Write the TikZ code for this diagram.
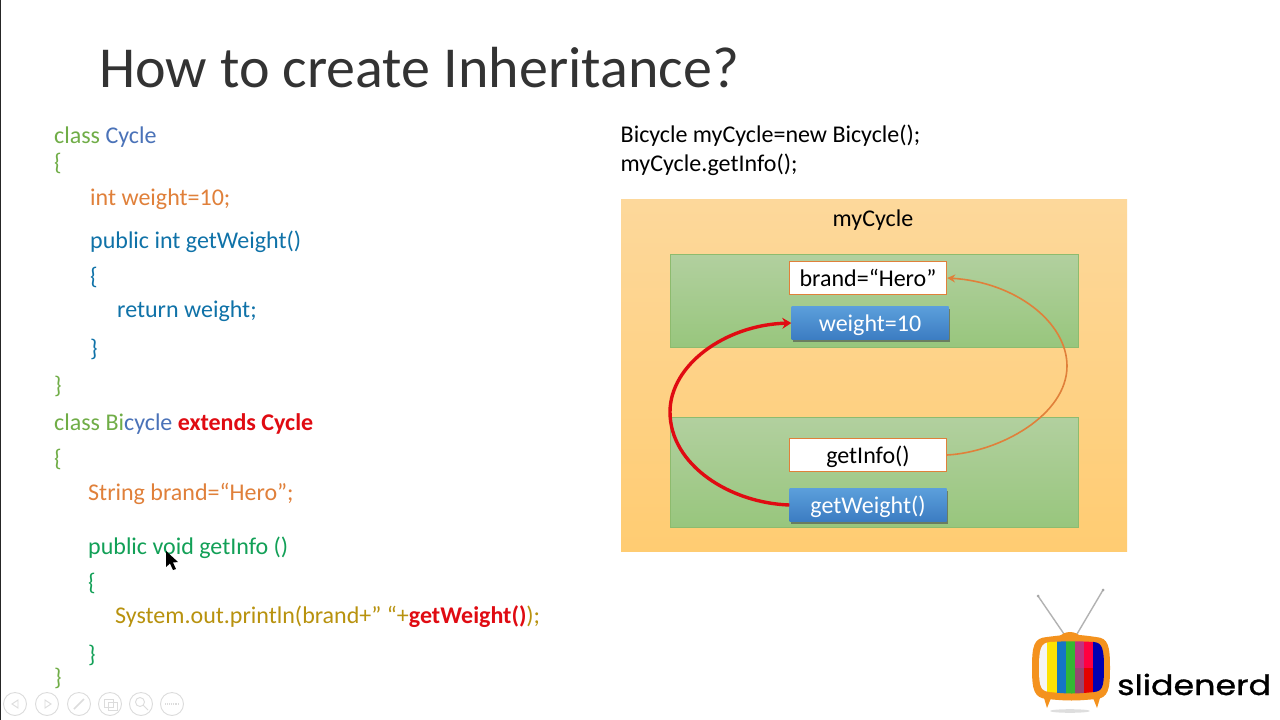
\documentclass[tikz,border=0pt]{standalone}
\usepackage{fontspec}
\setmainfont{Carlito}
\newfontfamily\logofont[FakeBold=0.9]{Poppins}
\usetikzlibrary{arrows.meta,shadows}
\definecolor{cgreen}{HTML}{70AD47}
\definecolor{cblue}{HTML}{4A72B8}
\definecolor{corange}{HTML}{E0803A}
\definecolor{cteal}{HTML}{0F72A8}
\definecolor{cjade}{HTML}{12A057}
\definecolor{cgold}{HTML}{B8920E}
\definecolor{cred}{HTML}{E00B12}
\definecolor{navgray}{HTML}{DCDCDC}
\definecolor{orangeT}{HTML}{FDD89B}
\definecolor{orangeB}{HTML}{FFCC72}
\definecolor{greenT}{HTML}{B2D09F}
\definecolor{greenB}{HTML}{98C67D}
\definecolor{greenL}{HTML}{8DBB6E}
\definecolor{blueT}{HTML}{5B9FDB}
\definecolor{blueB}{HTML}{3C7CC2}
\definecolor{tvorange}{HTML}{F4921E}
\tikzset{
 code/.style={inner sep=0pt,anchor=base west,yshift=-1.4pt,font=\fontsize{24}{28}\selectfont},
 orangefill/.style={top color=orangeT,bottom color=orangeB,draw=none},
 greenbox/.style={top color=greenT,bottom color=greenB,draw=greenL,line width=.6pt},
 whitebox/.style={draw=corange,fill=white,line width=1.4pt,minimum width=157pt,minimum height=33pt,inner sep=0pt,text height=20pt,text depth=3pt,font=\fontsize{24}{28}\selectfont},
 bluebox/.style={top color=blueT,bottom color=blueB,draw=none,text=white,minimum width=157pt,minimum height=33pt,inner sep=0pt,text height=20pt,text depth=3pt,font=\fontsize{24}{28}\selectfont,drop shadow={shadow xshift=1.5pt,shadow yshift=-2.5pt,fill=black!70,opacity=.6}},
 navbtn/.style={circle,draw=navgray,line width=.9pt,minimum size=23pt,inner sep=0pt},
 navicon/.style={draw=navgray,line width=.9pt}
}
\begin{document}
\begin{tikzpicture}[x=1pt,y=-1pt]
\useasboundingbox (0,0) rectangle (1280,720);
\fill[white] (0,0) rectangle (1280,720);
\fill[black!85] (0,0) rectangle (1.2,720);
% title
\node[code,font=\fontsize{58}{62}\selectfont,text=black!80] (title) at (99,86) {How to create Inheritance?};
% left code
\node[code] (l1) at (54,142) {\textcolor{cgreen}{class} \textcolor{cblue}{Cycle}};
\node[code,text=cgreen] (l2) at (54,169) {\{};
\node[code,text=corange] (l3) at (90,204) {int weight=10;};
\node[code,text=cteal] (l4) at (90,247) {public int getWeight()};
\node[code,text=cteal] (l5) at (90,283) {\{};
\node[code,text=cteal] (l6) at (117,316) {return weight;};
\node[code,text=cteal] (l7) at (90,355) {\}};
\node[code,text=cgreen] (l8) at (54,392) {\}};
\node[code] (l9) at (54,429) {\textcolor{cgreen}{class Bi}\textcolor{cblue}{cycle} \textcolor{cred}{\bfseries extends Cycle}};
\node[code,text=cgreen] (l10) at (54,465) {\{};
\node[code,text=corange] (l11) at (88,499) {String brand=“Hero”;};
\node[code,text=cjade] (l12) at (88,553) {public void getInfo ()};
\node[code,text=cjade] (l13) at (88,589) {\{};
\node[code,text=cgold] (l14) at (115,622) {System.out.println(brand+” “+\textcolor{cred}{\bfseries getWeight()});};
\node[code,text=cjade] (l15) at (88,661) {\}};
\node[code,text=cgreen] (l16) at (54,684) {\}};
% right code
\node[code,text=black] (r1) at (620.5,141) {Bicycle myCycle=new Bicycle();};
\node[code,text=black] (r2) at (620.5,170) {myCycle.getInfo();};
% diagram
\path[orangefill] (621,199) rectangle (1127,551);
\node[code,anchor=base,text=black] (my) at (873,225) {myCycle};
\path[greenbox] (670,254) rectangle (1078,347);
\path[greenbox] (670,417) rectangle (1078,527);
\node[whitebox] (brand) at (868,278) {brand=“Hero”};
\node[bluebox] (weight) at (870,323) {weight=10};
\node[whitebox] (info) at (868,455) {getInfo()};
\node[bluebox] (getw) at (868,505) {getWeight()};
\draw[corange,line width=1.6pt,-{Stealth[length=8pt,width=8pt]}] (info.east) .. controls (1000,452) and (1067,415) .. (1067,366) .. controls (1067,322) and (1015,282) .. (brand.east);
\draw[cred,line width=3.4pt,-{Stealth[length=9pt,width=11pt]}] (getw.west) .. controls (730,503) and (670,465) .. (670,412) .. controls (670,365) and (725,325) .. (weight.west);
% cursor
\fill[black] (166,551) -- (166,567) -- (170,563.5) -- (173,570) -- (176,569) -- (173,562.5) -- (178,562) -- cycle;
% nav buttons
\node[navbtn] (n1) at (15,704) {};
\node[navbtn] (n2) at (47,704) {};
\node[navbtn] (n3) at (79,704) {};
\node[navbtn] (n4) at (110,704) {};
\node[navbtn] (n5) at (141,704) {};
\node[navbtn] (n6) at (172,704) {};
\draw[navicon] (18,700) -- (12,704) -- (18,708) -- cycle;
\draw[navicon] (45,700) -- (51,704) -- (45,708) -- cycle;
\draw[navicon,line width=1.6pt] (74,709) -- (84,699);
\draw[navicon] (104,699) rectangle (113,707) (108,702) rectangle (117,710);
\draw[navicon] (140,702) circle (4.5pt) (143.5,705.5) -- (148,710);
\draw[navicon,densely dotted,line width=1.4pt] (165,704) -- (179,704);
% logo
\fill[black!25,opacity=.5] (1070,711) ellipse (20pt and 1.8pt);
\draw[gray!60,line width=1.4pt] (1038,596) -- (1064,634);
\fill[gray!70] (1038,596) circle (1.5pt);
\draw[gray!60,line width=1.4pt] (1103,590) -- (1077,634);
\fill[gray!70] (1103,590) circle (1.5pt);
\fill[tvorange] (1044,698) -- (1047,708) -- (1051,698) -- cycle;
\fill[tvorange] (1093,698) -- (1097,708) -- (1100,698) -- cycle;
\fill[tvorange] (1058,638) .. controls (1064,630) and (1076,630) .. (1082,638) -- cycle;
\fill[tvorange] (1047,637) .. controls (1070,634) and (1075,634) .. (1096,637) .. controls (1108,638) and (1110,645) .. (1110,668) .. controls (1110,690) and (1108,698) .. (1096,699) .. controls (1075,701) and (1068,701) .. (1047,699) .. controls (1034,698) and (1032,690) .. (1032,668) .. controls (1032,645) and (1034,638) .. (1047,637) -- cycle;
\begin{scope}
\clip (1050,642) .. controls (1070,641) and (1075,641) .. (1094,642) .. controls (1102,643) and (1104,648) .. (1104,668) .. controls (1104,688) and (1102,691) .. (1094,692) .. controls (1075,694) and (1068,694) .. (1050,692) .. controls (1041,691) and (1039,688) .. (1039,668) .. controls (1039,648) and (1041,643) .. (1050,642) -- cycle;
\fill[white!92!gray] (1038,641) rectangle (1047,694);
\fill[yellow!85!orange] (1047,641) rectangle (1057,694);
\fill[cyan!55!blue] (1057,641) rectangle (1066,694);
\fill[green!65!black!80!white] (1066,641) rectangle (1075,694);
\fill[magenta!75!black] (1075,641) rectangle (1084,668);
\fill[red!75!magenta] (1084,641) rectangle (1093,668);
\fill[blue!70!black] (1093,641) rectangle (1105,694);
\fill[magenta!55!black] (1075,668) rectangle (1084,694);
\fill[red!90!black] (1084,668) rectangle (1093,694);
\end{scope}
\node[inner sep=0pt,anchor=base west,text=black] (logo) at (1117,695) {\scalebox{1.19}[1]{\logofont\fontsize{28}{30}\selectfont slidenerd}};
\end{tikzpicture}
\end{document}
